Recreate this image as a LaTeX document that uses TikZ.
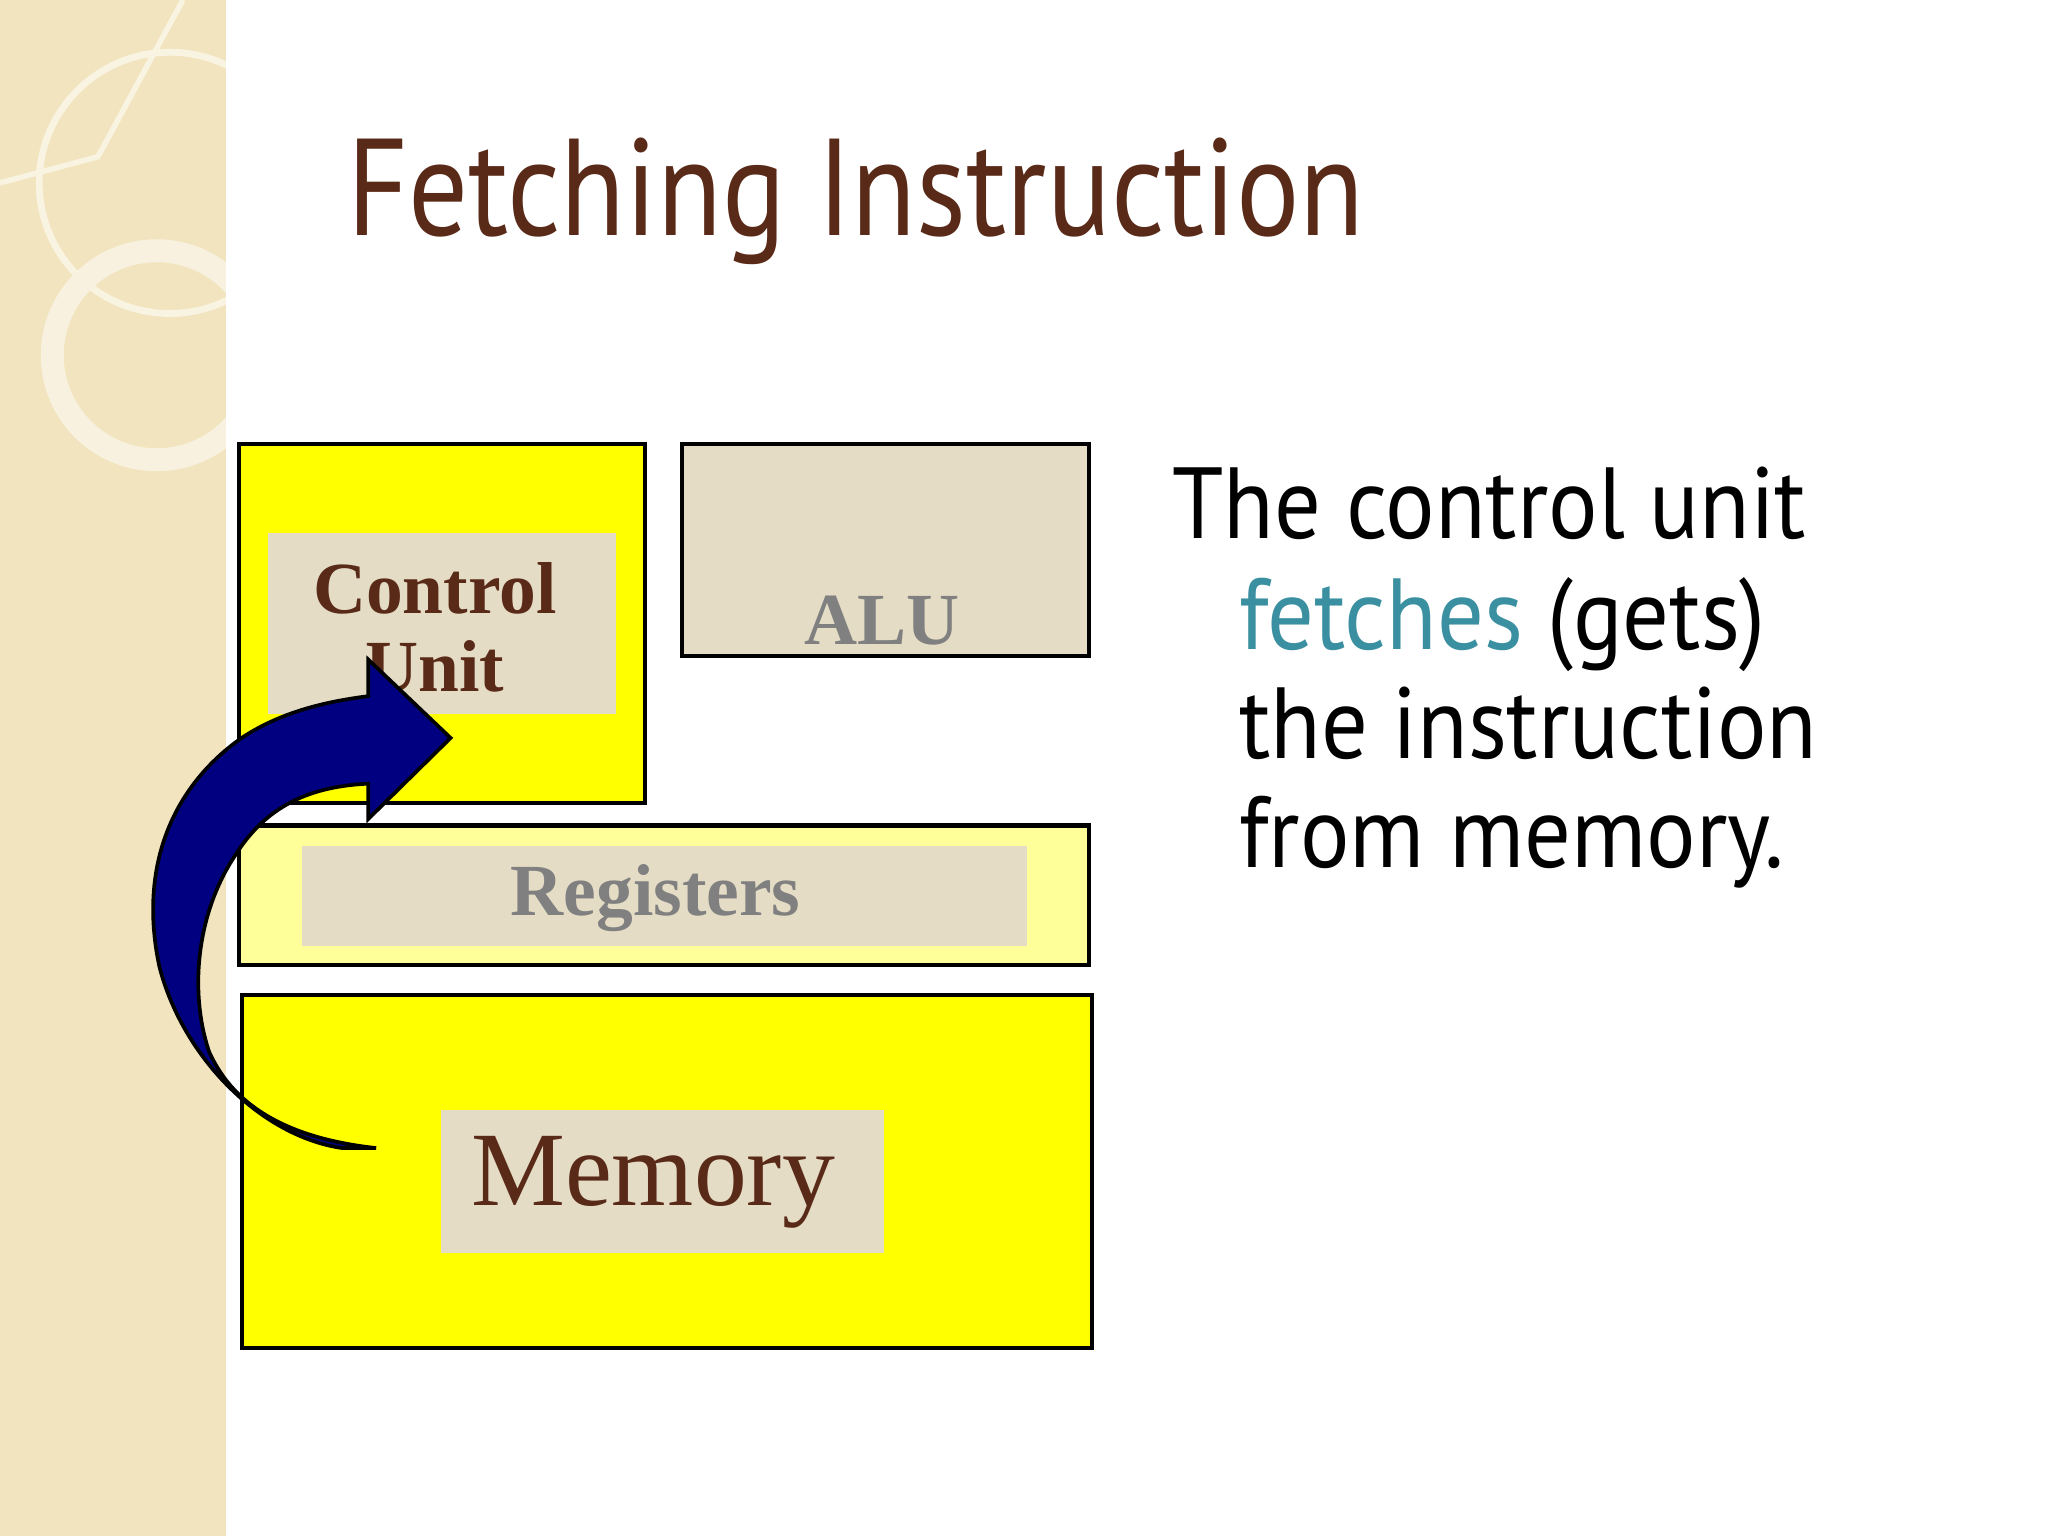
\documentclass[tikz,border=0pt]{standalone}
\usepackage{fontspec}
\setmainfont{PT Sans}
\newfontfamily\boxserif{Liberation Serif}
\begin{document}
\begin{tikzpicture}[x=0.01cm,y=-0.01cm,
  box/.style={draw=black,line width=0.9pt},
  lab/.style={fill=labbg,draw=none},
  btxt/.style={font=\boxserif\bfseries\fontsize{16}{19}\selectfont},
  rt/.style={anchor=base west,inner sep=0pt,font=\fontsize{22}{26}\selectfont}]
\definecolor{band}{HTML}{F1E4BE}
\definecolor{labbg}{HTML}{E4DCC5}
\definecolor{brown}{HTML}{5A2A18}
\definecolor{teal}{HTML}{3A8FA0}
\definecolor{ylw}{HTML}{FFFF00}
\definecolor{lylw}{HTML}{FFFF99}
\useasboundingbox (0,0) rectangle (1568,1176);
\fill[white] (0,0) rectangle (1568,1176);
\fill[band] (0,0) rectangle (173,1176);
\begin{scope}
\clip (0,0) rectangle (173,1176);
\draw[white!55!band,line width=1.5pt] (130,140) circle (100);
\draw[white!50!band,line width=5pt] (120,272) circle (80);
\draw[white!55!band,line width=1.2pt] (0,140) -- (75,120) -- (140,0);
\end{scope}
\node[anchor=base west,inner sep=0pt,text=brown,font=\fontsize{30}{36}\selectfont] (title) at (265,180) {\scalebox{0.86}[1]{Fetching Instruction}};
% boxes
\draw[box,fill=ylw] (183,340) rectangle (494,615);
\fill[lab] (205,408) rectangle (472,547);
\node[btxt,text=brown,align=center] (cu) at (333,480) {Control\\[-2pt]Unit};
\draw[box,fill=labbg] (522,340) rectangle (834,502);
\node[btxt,text=gray] (alu) at (675,475) {ALU};
\draw[box,fill=lylw] (183,632) rectangle (834,739);
\fill[lab] (231,648) rectangle (786,724);
\node[btxt,text=gray] (reg) at (502,688) {Registers};
\draw[box,fill=ylw] (185,762) rectangle (836,1032);
\fill[lab] (338,850) rectangle (677,959);
\node[font=\boxserif\fontsize{23}{28}\selectfont,text=brown] (mem) at (500,905) {Memory};
% arrow
\draw[black,line width=0.8pt,fill=blue!50!black] (288,879) -- (262,879)
  .. controls (200,870) and (140,810) .. (122,740)
  .. controls (105,660) and (135,600) .. (185,565)
  .. controls (215,545) and (250,537) .. (282,533)
  -- (282,505) -- (345,565) -- (282,627) -- (282,600)
  .. controls (240,602) and (205,615) .. (180,655)
  .. controls (150,700) and (145,760) .. (160,805)
  .. controls (180,850) and (225,872) .. (288,879);
% right text
\node[rt] (t1) at (897,412) {\scalebox{0.915}[1]{The control unit}};
\node[rt] (t2) at (948,497) {\scalebox{0.915}[1]{\textcolor{teal}{fetches} (gets)}};
\node[rt] (t3) at (948,581) {\scalebox{0.915}[1]{the instruction}};
\node[rt] (t4) at (948,664) {\scalebox{0.915}[1]{from memory.}};
\end{tikzpicture}
\end{document}
